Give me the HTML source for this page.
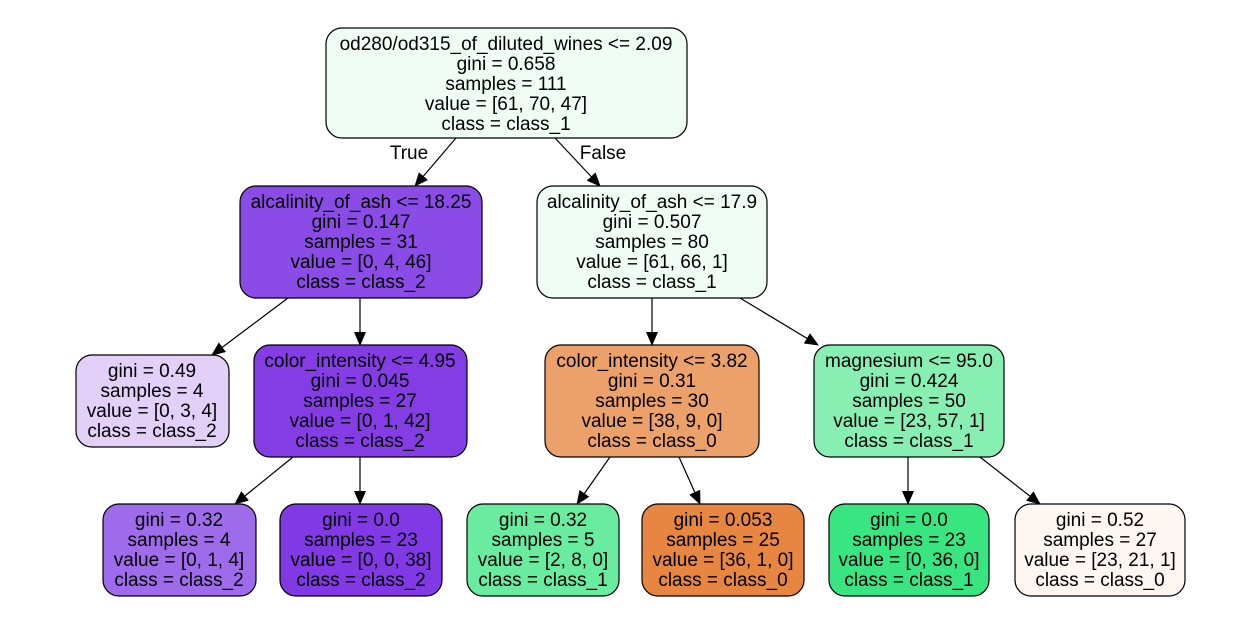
<!DOCTYPE html>
<html><head><meta charset="utf-8"><style>
html,body{margin:0;padding:0;background:#fff}
svg text{font-family:"Liberation Sans",Arial,sans-serif;font-size:19px;fill:#000}
</style></head><body>
<svg width="1256" height="617" viewBox="0 0 1256 617" xmlns="http://www.w3.org/2000/svg">
<defs><marker id="a" markerWidth="14" markerHeight="12" refX="13" refY="6" orient="auto" markerUnits="userSpaceOnUse"><path d="M0,0 L14,6 L0,12 z" fill="#000"/></marker></defs>
<g stroke="#000" stroke-width="1.2" fill="none" marker-end="url(#a)">
<line x1="456" y1="138" x2="415" y2="186"/>
<line x1="555" y1="138" x2="600" y2="186"/>
<line x1="288" y1="298" x2="212" y2="355"/>
<line x1="360" y1="298" x2="360" y2="345"/>
<line x1="293" y1="457" x2="235" y2="504"/>
<line x1="360" y1="457" x2="360" y2="504"/>
<line x1="652" y1="298" x2="652" y2="345"/>
<line x1="740" y1="298" x2="818" y2="345"/>
<line x1="610" y1="457" x2="577" y2="504"/>
<line x1="679" y1="457" x2="700" y2="504"/>
<line x1="908" y1="457" x2="908" y2="504"/>
<line x1="980" y1="457" x2="1040" y2="504"/>
</g>
<text x="409" y="159" text-anchor="middle">True</text>
<text x="603" y="159" text-anchor="middle">False</text>
<g stroke="#000" stroke-width="1.2">
<rect x="326" y="28" width="361" height="110" rx="16" fill="#effdf5"/>
<rect x="240" y="186" width="242" height="112" rx="16" fill="#8a4be6"/>
<rect x="537" y="186" width="230" height="112" rx="16" fill="#effdf5"/>
<rect x="76" y="355" width="153" height="92" rx="16" fill="#e2d0f9"/>
<rect x="254" y="345" width="213" height="112" rx="16" fill="#843de5"/>
<rect x="545" y="345" width="214" height="112" rx="16" fill="#eca16b"/>
<rect x="814" y="345" width="190" height="112" rx="16" fill="#88efb3"/>
<rect x="103" y="504" width="153" height="92" rx="16" fill="#9e6beb"/>
<rect x="280" y="504" width="162" height="92" rx="16" fill="#8139e5"/>
<rect x="467" y="504" width="152" height="92" rx="16" fill="#6aeca0"/>
<rect x="642" y="504" width="162" height="92" rx="16" fill="#e68641"/>
<rect x="829" y="504" width="160" height="92" rx="16" fill="#39e581"/>
<rect x="1015" y="504" width="170" height="92" rx="16" fill="#fdf6f1"/>
</g>
<g text-anchor="middle">
<text x="506" y="50">od280/od315_of_diluted_wines &lt;= 2.09</text><text x="506" y="70">gini = 0.658</text><text x="506" y="90">samples = 111</text><text x="506" y="110">value = [61, 70, 47]</text><text x="506" y="130">class = class_1</text>
<text x="361" y="208">alcalinity_of_ash &lt;= 18.25</text><text x="361" y="228">gini = 0.147</text><text x="361" y="248">samples = 31</text><text x="361" y="268">value = [0, 4, 46]</text><text x="361" y="288">class = class_2</text>
<text x="652" y="208">alcalinity_of_ash &lt;= 17.9</text><text x="652" y="228">gini = 0.507</text><text x="652" y="248">samples = 80</text><text x="652" y="268">value = [61, 66, 1]</text><text x="652" y="288">class = class_1</text>
<text x="152" y="377">gini = 0.49</text><text x="152" y="397">samples = 4</text><text x="152" y="417">value = [0, 3, 4]</text><text x="152" y="437">class = class_2</text>
<text x="360" y="367">color_intensity &lt;= 4.95</text><text x="360" y="387">gini = 0.045</text><text x="360" y="407">samples = 27</text><text x="360" y="427">value = [0, 1, 42]</text><text x="360" y="447">class = class_2</text>
<text x="652" y="367">color_intensity &lt;= 3.82</text><text x="652" y="387">gini = 0.31</text><text x="652" y="407">samples = 30</text><text x="652" y="427">value = [38, 9, 0]</text><text x="652" y="447">class = class_0</text>
<text x="909" y="367">magnesium &lt;= 95.0</text><text x="909" y="387">gini = 0.424</text><text x="909" y="407">samples = 50</text><text x="909" y="427">value = [23, 57, 1]</text><text x="909" y="447">class = class_1</text>
<text x="179" y="526">gini = 0.32</text><text x="179" y="546">samples = 4</text><text x="179" y="566">value = [0, 1, 4]</text><text x="179" y="586">class = class_2</text>
<text x="361" y="526">gini = 0.0</text><text x="361" y="546">samples = 23</text><text x="361" y="566">value = [0, 0, 38]</text><text x="361" y="586">class = class_2</text>
<text x="543" y="526">gini = 0.32</text><text x="543" y="546">samples = 5</text><text x="543" y="566">value = [2, 8, 0]</text><text x="543" y="586">class = class_1</text>
<text x="723" y="526">gini = 0.053</text><text x="723" y="546">samples = 25</text><text x="723" y="566">value = [36, 1, 0]</text><text x="723" y="586">class = class_0</text>
<text x="909" y="526">gini = 0.0</text><text x="909" y="546">samples = 23</text><text x="909" y="566">value = [0, 36, 0]</text><text x="909" y="586">class = class_1</text>
<text x="1100" y="526">gini = 0.52</text><text x="1100" y="546">samples = 27</text><text x="1100" y="566">value = [23, 21, 1]</text><text x="1100" y="586">class = class_0</text>
</g>
</svg>
</body></html>
